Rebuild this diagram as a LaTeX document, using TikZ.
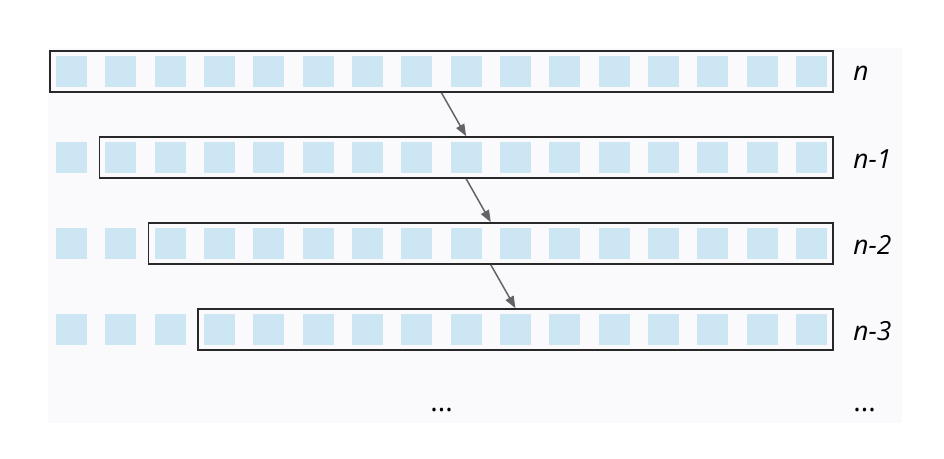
\documentclass[tikz,border=0pt]{standalone}
\usepackage{fontspec}
\newfontfamily\labelfont{Open Sans}
\usetikzlibrary{calc,fit,arrows.meta}
\definecolor{cellblue}{RGB}{204,230,243}
\definecolor{panelgray}{RGB}{250,250,252}
\definecolor{arrowgray}{RGB}{100,100,100}
\definecolor{boxline}{RGB}{40,40,40}

\begin{document}
\begin{tikzpicture}[x=0.02cm,y=-0.02cm,
  cell/.style={fill=cellblue,minimum size=0.62cm,inner sep=0pt,outer sep=0pt},
  window/.style={draw=boxline,line width=0.9pt,inner xsep=0.12cm,inner ysep=0.1cm},
  shiftarrow/.style={-{Triangle[length=0.24cm,width=0.18cm]},arrowgray,line width=0.85pt},
  tag/.style={anchor=west,inner sep=0pt,font=\labelfont\itshape\fontsize{15}{18}\selectfont},
  dots/.style={anchor=west,inner sep=0pt,font=\labelfont\fontsize{16}{18}\selectfont}]

  \useasboundingbox (0,0) rectangle (944,459);

  % Panel
  \fill[panelgray] (48,48) rectangle (902,423);

  % Cells
  \foreach \r in {0,...,3}
    \foreach \k in {0,...,15}
      \node[cell] (sq\r-\k) at ({71.5+49.33*\k},{71.5+86*\r}) {};

  % Windows
  \foreach \r in {0,...,3}
    \node[window, fit=(sq\r-\r)(sq\r-15)] (box\r) {};

  % Row labels
  \node[tag] (lab0) at (853,73) {n};
  \node[tag] (lab1) at (853,159) {n-1};
  \node[tag] (lab2) at (853,245) {n-2};
  \node[tag] (lab3) at (853,331) {n-3};
  \node[dots] (more0) at (430,410) {...};
  \node[dots] (more1) at (853,410) {...};

  % Shift arrows
  \coordinate (gap0) at ($(sq0-7.east)!0.5!(sq0-8.west)$);
  \coordinate (gap2) at ($(sq2-8.east)!0.5!(sq2-9.west)$);
  \draw[shiftarrow] (box0.south -| gap0) -- (box1.north -| sq1-8);
  \draw[shiftarrow] (box1.south -| sq1-8) -- (box2.north -| gap2);
  \draw[shiftarrow] (box2.south -| gap2) -- (box3.north -| sq3-9);

\end{tikzpicture}
\end{document}
